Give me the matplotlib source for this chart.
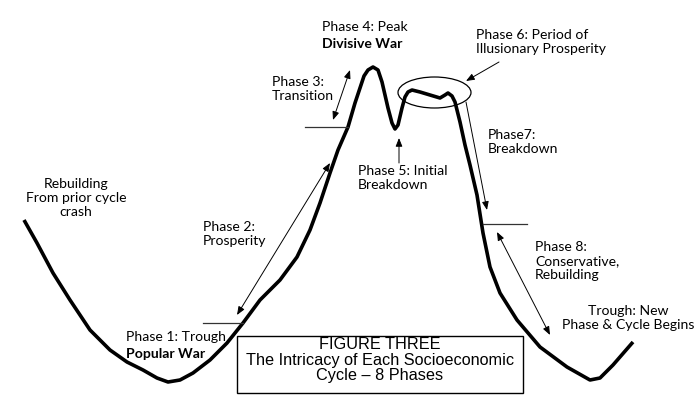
import matplotlib.pyplot as plt
from matplotlib.patches import Ellipse, Rectangle

# curve (pixel coordinates, y downward)
curve_x = [24, 37, 53, 70, 90, 110, 127, 143, 157, 168, 180, 193, 210, 227, 243,
           260, 280, 297, 310, 320, 330, 338, 348, 355, 360, 364, 368, 373, 378,
           382, 385, 388, 392, 395, 398, 402, 405, 408, 412, 420, 430, 440, 445,
           448, 452, 455, 460, 465, 470, 477, 483, 490, 500, 517, 540, 567, 590,
           600, 613, 633]
curve_y = [220, 243, 273, 300, 330, 350, 362, 370, 378, 382, 380, 373, 360, 343, 323,
           300, 280, 257, 230, 203, 173, 150, 127, 103, 88, 76, 70, 67, 70,
           82, 95, 108, 123, 129, 125, 108, 97, 92, 90, 92, 95, 98, 95,
           93, 96, 102, 122, 145, 165, 195, 233, 267, 293, 320, 347, 367, 380,
           378, 365, 342]

# labels: (text, x, y, ha, bold)
labels = [
    ("Rebuilding\nFrom prior cycle\ncrash", 76, 178, "center", False),
    ("Phase 4: Peak", 322, 21, "left", False),
    ("Divisive War", 322, 38, "left", True),
    ("Phase 3:\nTransition", 272, 76, "left", False),
    ("Phase 6: Period of\nIllusionary Prosperity", 476, 29, "left", False),
    ("Phase7:\nBreakdown", 488, 129, "left", False),
    ("Phase 5: Initial\nBreakdown", 358, 165, "left", False),
    ("Phase 2:\nProsperity", 203, 221, "left", False),
    ("Phase 1: Trough", 126, 331, "left", False),
    ("Popular War", 126, 348, "left", True),
    ("Phase 8:\nConservative,\nRebuilding", 535, 241, "left", False),
    ("Trough: New\nPhase & Cycle Begins", 628, 305, "center", False),
]

# arrows: (x0, y0, x1, y1, style)
arrows = [
    (333, 120, 350, 70, "<|-|>"),
    (237, 315, 330, 163, "<|-|>"),
    (399, 163, 399, 138, "-|>"),
    (499, 62, 466, 81, "-|>"),
    (466, 102, 487, 210, "-|>"),
    (497, 232, 550, 335, "<|-|>"),
]

ticks = [(305, 348, 127), (203, 243, 323), (483, 527, 224)]

title_lines = "FIGURE THREE\nThe Intricacy of Each Socioeconomic\nCycle \u2013 8 Phases"

fig = plt.figure(figsize=(7, 4), dpi=100)
ax = fig.add_axes([0, 0, 1, 1])
ax.set_xlim(0, 700)
ax.set_ylim(400, 0)
ax.axis("off")

ax.plot(curve_x, curve_y, color="black", lw=2.6, solid_capstyle="butt",
        solid_joinstyle="round")

for x0, x1, y in ticks:
    ax.plot([x0, x1], [y, y], color="#333333", lw=0.9)

for x0, y0, x1, y1, st in arrows:
    ax.annotate("", xy=(x1, y1), xytext=(x0, y0),
                arrowprops=dict(arrowstyle=st + ",head_length=0.5,head_width=0.2",
                                color="black", lw=0.7, shrinkA=0, shrinkB=0))

ax.add_patch(Ellipse((434.5, 92.5), 73, 31, fill=False, ec="black", lw=0.9))

for txt, x, y, ha, bold in labels:
    ax.text(x, y, txt, ha=ha, va="top", fontsize=10.1, family="Lato",
            fontweight="bold" if bold else "normal", color="black",
            linespacing=1.22)

ax.add_patch(Rectangle((237, 336), 286, 57, fill=False, ec="black", lw=1.0))
ax.text(380, 337, title_lines, ha="center", va="top", fontsize=11.7,
        family="Liberation Sans", linespacing=1.05)

fig.savefig("out.png", dpi=100)
